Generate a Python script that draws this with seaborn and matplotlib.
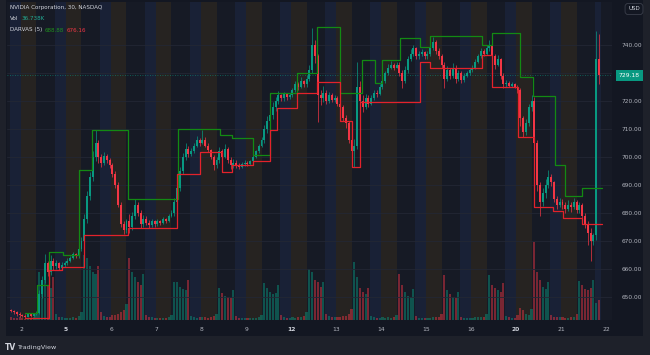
import numpy as np
import seaborn as sns
import matplotlib.pyplot as plt
from matplotlib.patches import Rectangle

# NVDA, 1h bars with extended session: pre 4:00-9:30, regular 9:30-16:00, post 16:00-20:00
# (16 bars per day, the first 4 bars are the previous day's post market)
day_labels = ['2', '5', '6', '7', '8', '9', '12', '13', '14', '15', '16', '20', '21', '22']
bold_days = ['5', '12', '20']

first_open = 645.3
closes = [
    645.0, 644.6, 644.0, 643.6,
    643.4, 643.0, 643.8, 643.2, 643.9, 644.2, 651.0, 656.0, 662.0, 659.0, 663.0, 661.0, 662.0, 660.5, 661.5, 662.0,
    663.0, 664.0, 665.5, 664.5, 667.0, 670.0, 678.0, 686.0, 693.0, 700.0, 705.0, 700.0, 698.0, 700.5, 699.0, 697.0,
    694.0, 690.0, 683.0, 676.0, 674.0, 677.0, 675.0, 679.0, 683.0, 680.0, 676.0, 678.0, 676.5, 675.8, 677.0, 676.0,
    677.0, 676.5, 678.0, 677.2, 679.0, 680.0, 684.0, 689.0, 695.0, 700.0, 703.0, 701.0, 702.0, 704.0, 706.0, 705.0,
    706.0, 704.0, 702.5, 700.0, 697.0, 699.0, 702.0, 700.0, 703.0, 699.0, 697.0, 698.0, 697.0, 696.5, 697.5, 698.0,
    697.5, 698.5, 700.0, 702.0, 704.0, 706.0, 710.0, 713.0, 715.0, 718.0, 720.0, 722.0, 721.0, 722.5, 721.5, 722.0,
    724.0, 726.0, 725.0, 727.0, 726.0, 728.0, 731.0, 740.0, 736.0, 722.0, 721.0, 723.0, 720.0, 722.0, 720.5, 721.0,
    719.0, 718.0, 714.0, 712.0, 706.0, 702.0, 704.0, 725.0, 720.0, 718.0, 721.0, 719.0, 721.0, 723.0, 722.5, 725.0,
    727.0, 730.0, 732.0, 733.0, 732.0, 733.0, 730.0, 727.0, 731.0, 735.0, 737.0, 739.0, 736.0, 737.0, 737.5, 736.0,
    737.0, 739.0, 741.0, 738.0, 736.0, 733.0, 728.0, 731.0, 729.0, 732.0, 728.0, 730.0, 727.5, 729.0, 730.0, 731.0,
    732.0, 734.0, 736.0, 738.0, 737.0, 739.0, 740.0, 736.0, 733.0, 735.0, 729.0, 726.0, 726.5, 725.5, 726.0, 725.0,
    724.0, 714.0, 709.0, 712.0, 718.0, 720.0, 705.0, 690.0, 684.0, 687.0, 690.0, 693.0, 691.0, 685.0, 683.0, 684.0,
    683.0, 681.5, 683.0, 682.0, 684.0, 681.0, 683.0, 679.0, 676.0, 673.0, 670.0, 672.0, 735.0, 729.18,
]
highs = [
    645.9, 645.4, 644.9, 644.5,
    644.1, 643.9, 644.3, 644.2, 644.4, 645.0, 652.5, 657.5, 665.5, 663.0, 665.0, 664.0, 663.2, 662.5, 662.4, 663.0,
    663.8, 664.6, 666.2, 665.9, 667.8, 671.5, 679.5, 688.0, 694.5, 702.0, 709.5, 706.0, 701.0, 701.8, 701.2, 699.8,
    697.8, 695.0, 691.0, 684.0, 677.2, 678.0, 679.5, 680.5, 685.0, 683.8, 681.0, 679.2, 678.8, 677.4, 677.8, 677.6,
    677.8, 677.5, 678.6, 678.4, 679.8, 681.2, 685.5, 690.5, 696.5, 701.5, 705.0, 704.0, 703.2, 705.0, 707.5, 706.8,
    709.5, 707.0, 705.0, 703.0, 700.8, 700.2, 703.5, 703.0, 704.5, 703.5, 700.0, 699.2, 698.8, 697.8, 698.4, 698.9,
    698.6, 699.0, 700.8, 702.6, 704.8, 707.0, 711.5, 714.5, 716.8, 719.5, 721.5, 723.5, 722.6, 723.4, 723.0, 722.8,
    724.8, 727.0, 726.8, 728.5, 727.6, 729.5, 733.0, 746.0, 742.0, 737.0, 724.0, 725.5, 724.0, 723.2, 722.8, 722.0,
    721.8, 720.0, 718.5, 715.0, 712.8, 707.0, 706.5, 734.0, 727.0, 722.0, 722.5, 722.0, 722.2, 724.0, 723.8, 726.0,
    727.8, 730.8, 733.2, 734.2, 733.6, 734.0, 733.8, 731.0, 732.5, 736.2, 738.5, 740.2, 739.5, 738.0, 738.6, 738.0,
    738.0, 740.0, 743.0, 741.8, 738.8, 736.8, 734.0, 732.5, 732.0, 733.6, 732.8, 731.2, 730.8, 730.0, 730.9, 732.0,
    732.8, 735.0, 736.8, 739.0, 738.6, 740.0, 742.0, 740.5, 737.0, 736.5, 735.5, 730.0, 727.4, 727.0, 726.8, 726.4,
    725.8, 724.5, 714.8, 713.5, 719.0, 722.0, 721.5, 706.0, 691.0, 689.0, 692.0, 695.5, 694.0, 691.5, 686.0, 685.5,
    685.0, 684.0, 684.5, 683.8, 685.5, 684.6, 684.0, 683.6, 680.0, 677.0, 674.5, 673.0, 745.0, 744.0,
]
lows = [
    644.5, 643.9, 643.4, 643.0,
    642.8, 642.5, 642.7, 642.8, 642.9, 643.5, 643.8, 649.5, 655.0, 657.5, 658.0, 659.5, 660.0, 659.8, 660.2, 660.8,
    661.3, 662.4, 663.5, 663.8, 664.0, 666.5, 669.0, 676.5, 684.5, 691.5, 698.5, 698.0, 696.5, 697.2, 698.0, 696.2,
    693.0, 689.0, 682.0, 675.0, 672.5, 673.0, 673.0, 674.0, 678.0, 679.0, 674.5, 675.2, 675.8, 674.8, 675.2, 675.0,
    675.5, 675.8, 676.2, 676.6, 676.9, 678.5, 679.0, 683.0, 688.0, 694.0, 699.0, 700.0, 700.5, 701.5, 703.5, 704.0,
    704.5, 703.5, 701.8, 699.2, 695.5, 696.0, 698.0, 698.5, 699.5, 698.0, 695.8, 696.2, 696.0, 695.8, 696.0, 696.9,
    696.8, 697.2, 698.0, 699.5, 701.5, 703.5, 705.0, 708.5, 711.5, 713.5, 716.5, 719.0, 720.0, 720.2, 720.5, 720.8,
    721.5, 723.4, 724.0, 724.5, 725.0, 725.2, 727.0, 730.0, 733.5, 712.5, 718.5, 719.5, 718.8, 719.2, 719.5, 719.8,
    718.2, 717.0, 713.0, 710.5, 705.0, 700.5, 696.5, 703.0, 717.5, 716.0, 717.0, 718.0, 718.5, 720.5, 721.5, 722.0,
    724.2, 726.5, 729.5, 731.5, 731.0, 731.8, 729.0, 724.5, 726.5, 730.0, 734.5, 736.0, 735.0, 735.2, 736.0, 735.2,
    735.2, 736.2, 738.2, 737.0, 735.0, 732.0, 724.6, 727.0, 727.8, 728.2, 726.5, 727.2, 726.4, 726.8, 728.5, 729.4,
    730.5, 731.5, 733.5, 735.5, 736.0, 736.5, 737.8, 735.0, 731.5, 732.5, 728.0, 724.8, 725.2, 724.9, 725.0, 724.5,
    723.0, 711.0, 707.2, 707.8, 711.0, 716.5, 703.0, 688.0, 679.0, 682.5, 685.5, 689.0, 689.5, 684.0, 681.5, 682.2,
    681.5, 680.2, 680.8, 680.5, 681.5, 680.0, 680.2, 678.0, 674.5, 668.5, 663.0, 668.6, 670.5, 726.0,
]
# volume in thousands
volumes = [
    6, 4, 3, 5,
    3, 2, 3, 4, 6, 12, 90, 75, 80, 65, 60, 80, 12, 6, 5, 4,
    4, 3, 5, 4, 8, 15, 120, 115, 100, 90, 85, 100, 14, 8, 6, 5,
    9, 10, 12, 14, 18, 30, 115, 90, 80, 70, 65, 85, 10, 6, 5, 4,
    3, 3, 4, 3, 5, 10, 70, 70, 62, 58, 55, 75, 8, 5, 4, 6,
    6, 5, 4, 5, 7, 12, 60, 50, 45, 42, 40, 55, 7, 4, 3, 3,
    3, 3, 4, 4, 5, 9, 68, 60, 52, 48, 50, 65, 9, 5, 4, 4,
    5, 4, 5, 6, 7, 14, 95, 90, 75, 70, 62, 70, 12, 8, 5, 5,
    6, 5, 7, 8, 12, 20, 108, 80, 60, 52, 48, 60, 8, 5, 4, 4,
    5, 4, 5, 4, 6, 10, 86, 65, 52, 45, 42, 58, 7, 4, 4, 3,
    4, 4, 6, 5, 6, 12, 84, 55, 48, 42, 40, 52, 6, 4, 3, 3,
    4, 5, 5, 6, 6, 11, 84, 65, 60, 55, 52, 68, 8, 5, 4, 4,
    10, 22, 18, 12, 10, 20, 144, 90, 75, 62, 58, 70, 9, 6, 5, 5,
    5, 4, 4, 5, 6, 12, 72, 65, 58, 55, 60, 75, 31, 36.738,
]

# Darvas (5) box: hour where each level starts, and the level
top_start = [1.4, 5.7, 10.0, 14.9, 20.6, 25.2, 38.0, 55.8, 70.8, 75.0, 82.5, 88.5, 98.1, 105.2,
             113.4, 121.2, 125.9, 128.4, 134.8, 141.9, 145.4, 163.9, 167.5, 177.4, 182.0, 189.9, 193.4, 199.5]
top_level = [644.3, 654.3, 666.0, 665.0, 695.4, 709.6, 685.0, 710.0, 708.0, 706.8, 700.7, 723.0, 730.0, 746.4,
             723.0, 734.6, 726.4, 734.6, 742.5, 739.3, 743.2, 740.0, 744.3, 728.6, 721.8, 697.0, 686.0, 688.88]
bot_start = [1.4, 10.0, 14.6, 22.4, 38.0, 55.5, 63.6, 71.5, 75.0, 82.5, 88.5, 91.0, 98.1, 105.2,
             113.4, 117.7, 120.5, 141.9, 145.4, 163.9, 167.5, 176.7, 182.4, 189.2, 192.7, 199.5]
bot_level = [642.5, 659.6, 660.7, 672.0, 674.6, 694.0, 701.8, 694.6, 697.0, 698.6, 709.6, 717.5, 723.0, 726.8,
             713.0, 696.4, 719.5, 734.0, 731.8, 736.4, 725.0, 707.0, 682.0, 680.7, 678.2, 676.16]
box_end = 206.6

last_price = 729.18
last_vol = '36.738K'

UP = '#089981'
DOWN = '#f23645'
GREEN = '#138a13'
RED = '#e3222b'
TXT = '#b2b5be'

sns.set_style("dark")
plt.rcParams['font.family'] = ['DejaVu Sans']

W, H = 650, 355
fig = plt.figure(figsize=(6.5, 3.55), dpi=100, facecolor='#1e212a')
fig.patches.append(Rectangle((6 / W, 1 - 336 / H), 637 / W, 336 / H, transform=fig.transFigure,
                             facecolor='#131722', edgecolor='none', zorder=-5))

rect = [7 / W, 35 / H, 605 / W, 318 / H]
ax_vol = fig.add_axes(rect, facecolor='#161a25', zorder=1)
ax = fig.add_axes(rect, sharex=ax_vol, zorder=2)
ax.patch.set_visible(False)

c = np.array(closes)
o = np.concatenate([[first_open], c[:-1]])
hi = np.maximum(np.array(highs), np.maximum(o, c))
lo = np.minimum(np.array(lows), np.minimum(o, c))
t = np.arange(len(c)) - 3.5
colors = np.where(c >= o, UP, DOWN)

# session backgrounds (pre market orange, post market blue)
t_last = t[-1] + 0.6
ax_vol.axvspan(-4, 0, color='#192136', lw=0, zorder=0)
for k in range(len(day_labels) - 1):
    d0 = 16 * k
    ax_vol.axvspan(d0, d0 + 5.5, color='#262321', lw=0, zorder=0)
    ax_vol.axvspan(d0 + 12, min(d0 + 16, t_last), color='#192136', lw=0, zorder=0)

# volume
ax_vol.bar(t, volumes, width=0.75, color=colors, alpha=0.45, lw=0, zorder=1)
ax_vol.set_ylim(0, max(volumes) * 4.1)
ax_vol.set_yticks([])
ax_vol.tick_params(axis='x', length=0, labelbottom=False)
for s in ax_vol.spines.values():
    s.set_visible(False)

# candles
ax.vlines(t, lo, hi, colors=colors, lw=0.5, zorder=3)
ax.bar(t, np.maximum(np.abs(c - o), 0.2), bottom=np.minimum(o, c), width=0.7,
       color=colors, lw=0, zorder=3)

# darvas boxes
sns.lineplot(x=top_start + [box_end], y=top_level + [top_level[-1]], drawstyle='steps-post',
             color=GREEN, lw=0.9, ax=ax, zorder=4)
sns.lineplot(x=bot_start + [box_end], y=bot_level + [bot_level[-1]], drawstyle='steps-post',
             color=RED, lw=0.9, ax=ax, zorder=4)

# last price line
ax.axhline(last_price, color=UP, lw=0.6, ls=(0, (1, 2)), alpha=0.7, zorder=2)

ax.set_xlim(-4.98, 210.1)
ax.set_ylim(641.8, 755.4)
ax.set_xlabel('')
ax.set_ylabel('')
ax.set_yticks(np.arange(650, 741, 10))
ax.yaxis.set_major_formatter(plt.FormatStrFormatter('%.2f'))
ax.yaxis.tick_right()
ax.tick_params(axis='y', length=0, pad=7, labelsize=4.2, labelcolor=TXT)
ax.set_xticks([16 * k for k in range(len(day_labels))])
ax.set_xticklabels(day_labels)
ax.tick_params(axis='x', length=0, pad=5, labelsize=4.3, labelcolor=TXT)
for lab in ax.get_xticklabels():
    if lab.get_text() in bold_days:
        lab.set_fontweight('bold')
        lab.set_color('#d1d4dc')
for lab in ax.get_yticklabels():
    if lab.get_text() == '730.00':
        lab.set_visible(False)
ax.grid(axis='y', color='#232734', lw=0.6)
ax.grid(axis='x', visible=False)
for s in ax.spines.values():
    s.set_visible(False)

ax.annotate(f'{last_price:.2f}', xy=(1, last_price), xycoords=('axes fraction', 'data'),
            xytext=(5, 0), textcoords='offset points', ha='left', va='center',
            fontsize=4.3, color='white', zorder=10, annotation_clip=False,
            bbox=dict(boxstyle='square,pad=0.55', fc=UP, ec='none'))

# legend texts
fs = 4.1
fig.text(10 / W, 1 - 8 / H, 'NVIDIA Corporation, 30, NASDAQ', fontsize=fs, color='#d1d4dc', va='center')
fig.text(10 / W, 1 - 19 / H, 'Vol', fontsize=fs, color='#d1d4dc', va='center')
fig.text(22 / W, 1 - 19 / H, last_vol, fontsize=fs, color='#22ab94', va='center')
fig.text(10 / W, 1 - 30 / H, 'DARVAS (5)', fontsize=fs, color='#d1d4dc', va='center')
fig.text(45 / W, 1 - 30 / H, f'{top_level[-1]:.2f}', fontsize=fs, color='#1f8f1f', va='center')
fig.text(67 / W, 1 - 30 / H, f'{bot_level[-1]:.2f}', fontsize=fs, color='#f23645', va='center')

fig.text(634 / W, 1 - 9 / H, 'USD', fontsize=4, color='#d1d4dc', ha='center', va='center',
         bbox=dict(boxstyle='round,pad=0.55', fc='#131722', ec='#3a3e4a', lw=0.6))

fig.text(5 / W, 1 - 347 / H, 'TV', fontsize=5.5, fontweight='bold', color='#d1d4dc', va='center')
fig.text(17 / W, 1 - 347 / H, 'TradingView', fontsize=4.6, color='#d1d4dc', va='center')

fig.savefig('out.png', dpi=100, facecolor=fig.get_facecolor())
